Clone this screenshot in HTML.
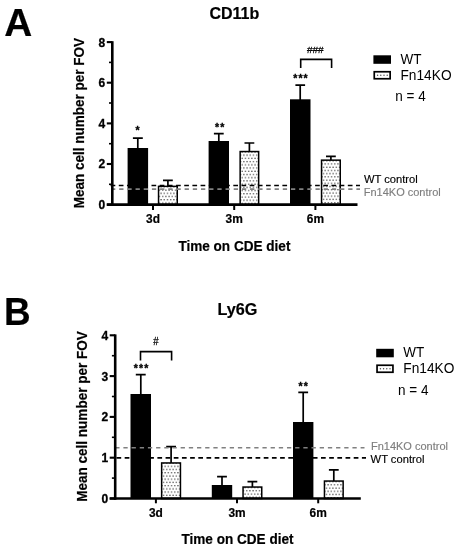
<!DOCTYPE html>
<html lang="en"><head><meta charset="utf-8"><title>CD11b and Ly6G cell counts on CDE diet</title>
<style>html,body{margin:0;padding:0;background:#fff}body{width:458px;height:550px;overflow:hidden}svg{display:block}text{font-family:'Liberation Sans', Arial, Helvetica, sans-serif;fill:#000}.b{font-weight:bold;stroke:#000;stroke-width:0.2px}.t{stroke-width:0.3px}.g{fill:#7e7e7e;stroke:#7e7e7e;stroke-width:0.15px}.k{stroke:#000;stroke-width:0.15px}</style>
</head><body>
<svg width="458" height="550" viewBox="0 0 458 550">
<defs>
<pattern id="a1" patternUnits="userSpaceOnUse" x="160.30" y="191.69" width="3.2" height="6.44"><rect width="3.2" height="6.44" fill="#fff"/><circle cx="0.8" cy="1.61" r="0.72" fill="#383838"/><circle cx="2.4" cy="4.83" r="0.72" fill="#383838"/></pattern>
<pattern id="a2" patternUnits="userSpaceOnUse" x="243.06" y="153.56" width="3.2" height="6.44"><rect width="3.2" height="6.44" fill="#fff"/><circle cx="0.8" cy="1.61" r="0.72" fill="#383838"/><circle cx="2.4" cy="4.83" r="0.72" fill="#383838"/></pattern>
<pattern id="a3" patternUnits="userSpaceOnUse" x="324.36" y="162.39" width="3.2" height="6.44"><rect width="3.2" height="6.44" fill="#fff"/><circle cx="0.8" cy="1.61" r="0.72" fill="#383838"/><circle cx="2.4" cy="4.83" r="0.72" fill="#383838"/></pattern>
<pattern id="b1" patternUnits="userSpaceOnUse" x="164.35" y="464.72" width="3.2" height="6.44"><rect width="3.2" height="6.44" fill="#fff"/><circle cx="0.8" cy="1.61" r="0.72" fill="#383838"/><circle cx="2.4" cy="4.83" r="0.72" fill="#383838"/></pattern>
<pattern id="b2" patternUnits="userSpaceOnUse" x="245.90" y="489.19" width="3.2" height="6.44"><rect width="3.2" height="6.44" fill="#fff"/><circle cx="0.8" cy="1.61" r="0.72" fill="#383838"/><circle cx="2.4" cy="4.83" r="0.72" fill="#383838"/></pattern>
<pattern id="b3" patternUnits="userSpaceOnUse" x="327.30" y="483.24" width="3.2" height="6.44"><rect width="3.2" height="6.44" fill="#fff"/><circle cx="0.8" cy="1.61" r="0.72" fill="#383838"/><circle cx="2.4" cy="4.83" r="0.72" fill="#383838"/></pattern>
</defs>
<rect width="458" height="550" fill="#fff"/>
<path d="M137.8 149.0V138.2M132.9 138.2H142.8" stroke="#000" stroke-width="1.7" fill="none"/>
<rect x="127.6" y="148.0" width="20.5" height="56.6" fill="#000"/>
<path d="M167.9 186.6V180.3M163.0 180.3H172.8" stroke="#000" stroke-width="1.7" fill="none"/>
<rect x="158.55" y="186.35" width="18.70" height="18.25" fill="url(#a1)" stroke="#000" stroke-width="1.5"/>
<path d="M218.8 142.0V133.6M213.9 133.6H223.7" stroke="#000" stroke-width="1.7" fill="none"/>
<rect x="208.6" y="141.0" width="20.4" height="63.6" fill="#000"/>
<path d="M249.4 151.8V143.0M244.5 143.0H254.3" stroke="#000" stroke-width="1.7" fill="none"/>
<rect x="240.15" y="151.55" width="18.50" height="53.05" fill="url(#a2)" stroke="#000" stroke-width="1.5"/>
<path d="M300.2 100.3V85.2M295.4 85.2H305.1" stroke="#000" stroke-width="1.7" fill="none"/>
<rect x="290.0" y="99.3" width="20.5" height="105.3" fill="#000"/>
<path d="M330.9 160.4V156.4M326.0 156.4H335.8" stroke="#000" stroke-width="1.7" fill="none"/>
<rect x="321.55" y="160.15" width="18.70" height="44.45" fill="url(#a3)" stroke="#000" stroke-width="1.5"/>
<path d="M110.6 185.5H360.0" stroke="#000" stroke-width="1.7" stroke-dasharray="4.7 3.48" fill="none"/>
<path d="M111.0 189.1H360.0" stroke="#808080" stroke-width="1.6" stroke-dasharray="4.3 3.88" fill="none"/>
<path d="M112.3 41.2V205.9" stroke="#000" stroke-width="2.6" fill="none"/>
<path d="M106.8 204.6H357.5" stroke="#000" stroke-width="2.6" fill="none"/>
<path d="M106.8 204.6H112.3" stroke="#000" stroke-width="2.1"/>
<text class="b t" transform="translate(105.2 208.9) scale(1 1)" font-size="12" text-anchor="end">0</text>
<path d="M106.8 164.0H112.3" stroke="#000" stroke-width="2.1"/>
<text class="b t" transform="translate(105.2 168.3) scale(1 1)" font-size="12" text-anchor="end">2</text>
<path d="M106.8 123.4H112.3" stroke="#000" stroke-width="2.1"/>
<text class="b t" transform="translate(105.2 127.7) scale(1 1)" font-size="12" text-anchor="end">4</text>
<path d="M106.8 82.7H112.3" stroke="#000" stroke-width="2.1"/>
<text class="b t" transform="translate(105.2 87.1) scale(1 1)" font-size="12" text-anchor="end">6</text>
<path d="M106.8 42.1H112.3" stroke="#000" stroke-width="2.1"/>
<text class="b t" transform="translate(105.2 46.5) scale(1 1)" font-size="12" text-anchor="end">8</text>
<path d="M109.0 184.3H112.3" stroke="#000" stroke-width="1.6"/>
<path d="M109.0 143.7H112.3" stroke="#000" stroke-width="1.6"/>
<path d="M109.0 103.0H112.3" stroke="#000" stroke-width="1.6"/>
<path d="M109.0 62.4H112.3" stroke="#000" stroke-width="1.6"/>
<path d="M153.0 204.6V210.0" stroke="#000" stroke-width="2"/>
<text class="b" transform="translate(153.0 223.3) scale(0.97 1)" font-size="12.3" text-anchor="middle">3d</text>
<path d="M234.2 204.6V210.0" stroke="#000" stroke-width="2"/>
<text class="b" transform="translate(234.2 223.3) scale(0.97 1)" font-size="12.3" text-anchor="middle">3m</text>
<path d="M315.4 204.6V210.0" stroke="#000" stroke-width="2"/>
<text class="b" transform="translate(315.4 223.3) scale(0.97 1)" font-size="12.3" text-anchor="middle">6m</text>
<path d="M140.8 395.0V374.6M135.8 374.6H145.7" stroke="#000" stroke-width="1.7" fill="none"/>
<rect x="130.5" y="394.0" width="20.5" height="104.5" fill="#000"/>
<path d="M171.1 463.2V446.6M166.2 446.6H176.0" stroke="#000" stroke-width="1.7" fill="none"/>
<rect x="161.65" y="462.95" width="18.80" height="35.55" fill="url(#b1)" stroke="#000" stroke-width="1.5"/>
<path d="M222.0 486.0V476.6M217.1 476.6H226.9" stroke="#000" stroke-width="1.7" fill="none"/>
<rect x="211.8" y="485.0" width="20.4" height="13.5" fill="#000"/>
<path d="M252.4 487.3V481.6M247.5 481.6H257.3" stroke="#000" stroke-width="1.7" fill="none"/>
<rect x="243.05" y="487.05" width="18.70" height="11.45" fill="url(#b2)" stroke="#000" stroke-width="1.5"/>
<path d="M303.2 423.0V392.4M298.3 392.4H308.1" stroke="#000" stroke-width="1.7" fill="none"/>
<rect x="293.0" y="422.0" width="20.4" height="76.5" fill="#000"/>
<path d="M333.8 481.3V469.8M328.9 469.8H338.7" stroke="#000" stroke-width="1.7" fill="none"/>
<rect x="324.45" y="481.05" width="18.70" height="17.45" fill="url(#b3)" stroke="#000" stroke-width="1.5"/>
<path d="M116.5 457.8H366.0" stroke="#000" stroke-width="1.8" stroke-dasharray="4.7 3.48" fill="none"/>
<path d="M115.2 447.8H364.5" stroke="#808080" stroke-width="1.6" stroke-dasharray="4.3 3.88" fill="none"/>
<path d="M115.2 334.4V499.8" stroke="#000" stroke-width="2.6" fill="none"/>
<path d="M109.7 498.5H360.8" stroke="#000" stroke-width="2.6" fill="none"/>
<path d="M109.7 498.5H115.2" stroke="#000" stroke-width="2.1"/>
<text class="b t" transform="translate(108.1 502.9) scale(1 1)" font-size="12" text-anchor="end">0</text>
<path d="M109.7 457.7H115.2" stroke="#000" stroke-width="2.1"/>
<text class="b t" transform="translate(108.1 462.1) scale(1 1)" font-size="12" text-anchor="end">1</text>
<path d="M109.7 416.9H115.2" stroke="#000" stroke-width="2.1"/>
<text class="b t" transform="translate(108.1 421.2) scale(1 1)" font-size="12" text-anchor="end">2</text>
<path d="M109.7 376.1H115.2" stroke="#000" stroke-width="2.1"/>
<text class="b t" transform="translate(108.1 380.5) scale(1 1)" font-size="12" text-anchor="end">3</text>
<path d="M109.7 335.3H115.2" stroke="#000" stroke-width="2.1"/>
<text class="b t" transform="translate(108.1 339.7) scale(1 1)" font-size="12" text-anchor="end">4</text>
<path d="M111.9 478.1H115.2" stroke="#000" stroke-width="1.6"/>
<path d="M111.9 437.3H115.2" stroke="#000" stroke-width="1.6"/>
<path d="M111.9 396.5H115.2" stroke="#000" stroke-width="1.6"/>
<path d="M111.9 355.7H115.2" stroke="#000" stroke-width="1.6"/>
<path d="M155.9 498.5V503.3" stroke="#000" stroke-width="2"/>
<text class="b" transform="translate(155.9 517.2) scale(0.97 1)" font-size="12.3" text-anchor="middle">3d</text>
<path d="M237.0 498.5V503.3" stroke="#000" stroke-width="2"/>
<text class="b" transform="translate(237.0 517.2) scale(0.97 1)" font-size="12.3" text-anchor="middle">3m</text>
<path d="M318.2 498.5V503.3" stroke="#000" stroke-width="2"/>
<text class="b" transform="translate(318.2 517.2) scale(0.97 1)" font-size="12.3" text-anchor="middle">6m</text>
<text class="b" transform="translate(4.3 36.05) scale(0.977 1)" font-size="39.7">A</text>
<text class="b" transform="translate(4.1 324.6) scale(0.935 1)" font-size="39.5">B</text>
<text class="b" x="234.3" y="19.2" font-size="16" text-anchor="middle">CD11b</text>
<text class="b" x="237.5" y="315.3" font-size="16.2" text-anchor="middle">Ly6G</text>
<text class="b" transform="translate(234.4 250.6) scale(0.93 1)" font-size="14.6" text-anchor="middle">Time on CDE diet</text>
<text class="b" transform="translate(237.5 544.2) scale(0.93 1)" font-size="14.6" text-anchor="middle">Time on CDE diet</text>
<text class="b" transform="translate(84.2 123.1) rotate(-90) scale(0.965 1)" font-size="14" text-anchor="middle">Mean cell number per FOV</text>
<text class="b" transform="translate(86.8 416.5) rotate(-90) scale(0.966 1)" font-size="14" text-anchor="middle">Mean cell number per FOV</text>
<rect x="373.4" y="55.3" width="17.6" height="8.5" fill="#000"/>
<rect x="374.25" y="71.75" width="15.9" height="7.0" fill="#fff" stroke="#000" stroke-width="1.7"/>
<circle cx="377.6" cy="75.2" r="0.7" fill="#4a4a4a"/>
<circle cx="380.8" cy="75.2" r="0.7" fill="#4a4a4a"/>
<circle cx="384.0" cy="75.2" r="0.7" fill="#4a4a4a"/>
<circle cx="387.2" cy="75.2" r="0.7" fill="#4a4a4a"/>
<text transform="translate(400.5 63.7) scale(0.95 1)" font-size="14.2">WT</text>
<text transform="translate(400.5 79.6) scale(0.953 1)" font-size="14.4">Fn14KO</text>
<text transform="translate(395.3 101.4) scale(0.965 1)" font-size="14">n = 4</text>
<rect x="376.2" y="348.8" width="17.6" height="8.5" fill="#000"/>
<rect x="377.05" y="365.25" width="15.9" height="7.0" fill="#fff" stroke="#000" stroke-width="1.7"/>
<circle cx="380.4" cy="368.8" r="0.7" fill="#4a4a4a"/>
<circle cx="383.6" cy="368.8" r="0.7" fill="#4a4a4a"/>
<circle cx="386.8" cy="368.8" r="0.7" fill="#4a4a4a"/>
<circle cx="390.0" cy="368.8" r="0.7" fill="#4a4a4a"/>
<text transform="translate(403.3 357.2) scale(0.95 1)" font-size="14.2">WT</text>
<text transform="translate(403.3 373.1) scale(0.953 1)" font-size="14.4">Fn14KO</text>
<text transform="translate(398.1 394.9) scale(0.965 1)" font-size="14">n = 4</text>
<text class="k" transform="translate(363.9 183.2) scale(0.965 1)" font-size="11.6">WT control</text>
<text class="g" transform="translate(363.8 196.4) scale(0.965 1)" font-size="11.4">Fn14KO control</text>
<text class="g" transform="translate(371 449.9) scale(0.965 1)" font-size="11.4">Fn14KO control</text>
<text class="k" transform="translate(370.6 463.1) scale(0.965 1)" font-size="11.6">WT control</text>
<text x="138.0" y="133.6" font-size="10.5" font-weight="bold" letter-spacing="1.15" text-anchor="middle" stroke="#000" stroke-width="0.35">*</text>
<text x="220.2" y="130.6" font-size="10.5" font-weight="bold" letter-spacing="1.15" text-anchor="middle" stroke="#000" stroke-width="0.35">**</text>
<text x="301.0" y="81.6" font-size="10.5" font-weight="bold" letter-spacing="1.15" text-anchor="middle" stroke="#000" stroke-width="0.35">***</text>
<text x="141.6" y="372.2" font-size="10.5" font-weight="bold" letter-spacing="1.15" text-anchor="middle" stroke="#000" stroke-width="0.35">***</text>
<text x="303.8" y="390.2" font-size="10.5" font-weight="bold" letter-spacing="1.15" text-anchor="middle" stroke="#000" stroke-width="0.35">**</text>
<path d="M300.7 68.1V59.4H331.6V68.1" stroke="#000" stroke-width="1.6" fill="none"/>
<text transform="translate(315.3 53) scale(1.04 1)" font-size="9.7" text-anchor="middle" stroke="#000" stroke-width="0.25">###</text>
<path d="M140.5 360.4V351.6H171.6V360.4" stroke="#000" stroke-width="1.6" fill="none"/>
<text transform="translate(156 345.3) scale(0.95 1)" font-size="10" text-anchor="middle" stroke="#000" stroke-width="0.25">#</text>
</svg></body></html>
